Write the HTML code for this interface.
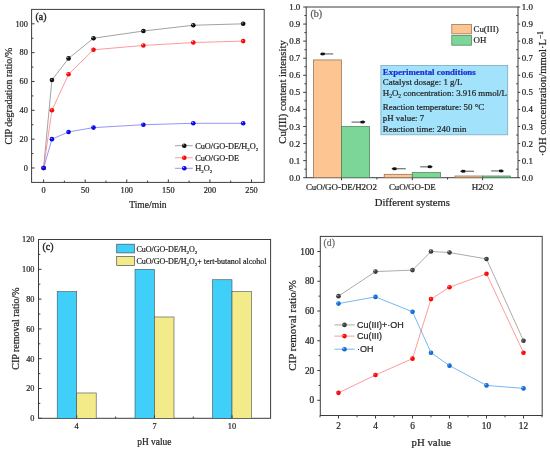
<!DOCTYPE html>
<html><head><meta charset="utf-8"><style>
html,body{margin:0;padding:0;background:#fff;width:550px;height:449px;overflow:hidden}
svg{display:block;font-family:"Liberation Serif", serif;will-change:transform}
text{stroke-width:0.22px}
</style></head><body>
<svg width="550" height="449" viewBox="0 0 550 449">
<defs>
<radialGradient id="gk" cx="0.5" cy="0.5" fx="0.32" fy="0.28" r="0.55"><stop offset="0" stop-color="#ddd"/><stop offset="0.28" stop-color="#222"/><stop offset="1" stop-color="#000"/></radialGradient>
<radialGradient id="gg" cx="0.5" cy="0.5" fx="0.32" fy="0.28" r="0.55"><stop offset="0" stop-color="#ddd"/><stop offset="0.28" stop-color="#505050"/><stop offset="1" stop-color="#2a2a2a"/></radialGradient>
<radialGradient id="gr" cx="0.5" cy="0.5" fx="0.32" fy="0.28" r="0.55"><stop offset="0" stop-color="#fdd"/><stop offset="0.28" stop-color="#f11"/><stop offset="1" stop-color="#e00"/></radialGradient>
<radialGradient id="gb" cx="0.5" cy="0.5" fx="0.32" fy="0.28" r="0.55"><stop offset="0" stop-color="#ddf"/><stop offset="0.28" stop-color="#11f"/><stop offset="1" stop-color="#00d"/></radialGradient>
<radialGradient id="gc" cx="0.5" cy="0.5" fx="0.32" fy="0.28" r="0.55"><stop offset="0" stop-color="#def"/><stop offset="0.28" stop-color="#1a78e8"/><stop offset="1" stop-color="#0a5cc0"/></radialGradient>
</defs>
<rect x="0" y="0" width="550" height="449" fill="#fff"/>
<rect x="31.60" y="9.40" width="232.60" height="173.00" fill="none" stroke="#3c3c3c" stroke-width="1"/>
<line x1="31.60" y1="167.98" x2="34.60" y2="167.98" stroke="#3c3c3c" stroke-width="1"/>
<text x="27.90" y="170.81" font-size="8.3" text-anchor="end" fill="#262626" stroke="#262626" font-weight="normal" >0</text>
<line x1="31.60" y1="139.15" x2="34.60" y2="139.15" stroke="#3c3c3c" stroke-width="1"/>
<text x="27.90" y="141.97" font-size="8.3" text-anchor="end" fill="#262626" stroke="#262626" font-weight="normal" >20</text>
<line x1="31.60" y1="110.32" x2="34.60" y2="110.32" stroke="#3c3c3c" stroke-width="1"/>
<text x="27.90" y="113.14" font-size="8.3" text-anchor="end" fill="#262626" stroke="#262626" font-weight="normal" >40</text>
<line x1="31.60" y1="81.48" x2="34.60" y2="81.48" stroke="#3c3c3c" stroke-width="1"/>
<text x="27.90" y="84.31" font-size="8.3" text-anchor="end" fill="#262626" stroke="#262626" font-weight="normal" >60</text>
<line x1="31.60" y1="52.65" x2="34.60" y2="52.65" stroke="#3c3c3c" stroke-width="1"/>
<text x="27.90" y="55.47" font-size="8.3" text-anchor="end" fill="#262626" stroke="#262626" font-weight="normal" >80</text>
<line x1="31.60" y1="23.82" x2="34.60" y2="23.82" stroke="#3c3c3c" stroke-width="1"/>
<text x="27.90" y="26.64" font-size="8.3" text-anchor="end" fill="#262626" stroke="#262626" font-weight="normal" >100</text>
<line x1="31.60" y1="153.57" x2="33.40" y2="153.57" stroke="#3c3c3c" stroke-width="1"/>
<line x1="31.60" y1="124.73" x2="33.40" y2="124.73" stroke="#3c3c3c" stroke-width="1"/>
<line x1="31.60" y1="95.90" x2="33.40" y2="95.90" stroke="#3c3c3c" stroke-width="1"/>
<line x1="31.60" y1="67.07" x2="33.40" y2="67.07" stroke="#3c3c3c" stroke-width="1"/>
<line x1="31.60" y1="38.23" x2="33.40" y2="38.23" stroke="#3c3c3c" stroke-width="1"/>
<line x1="43.60" y1="182.40" x2="43.60" y2="179.40" stroke="#3c3c3c" stroke-width="1"/>
<text x="43.60" y="193.02" font-size="8.3" text-anchor="middle" fill="#262626" stroke="#262626" font-weight="normal" >0</text>
<line x1="85.18" y1="182.40" x2="85.18" y2="179.40" stroke="#3c3c3c" stroke-width="1"/>
<text x="85.18" y="193.02" font-size="8.3" text-anchor="middle" fill="#262626" stroke="#262626" font-weight="normal" >50</text>
<line x1="126.76" y1="182.40" x2="126.76" y2="179.40" stroke="#3c3c3c" stroke-width="1"/>
<text x="126.76" y="193.02" font-size="8.3" text-anchor="middle" fill="#262626" stroke="#262626" font-weight="normal" >100</text>
<line x1="168.34" y1="182.40" x2="168.34" y2="179.40" stroke="#3c3c3c" stroke-width="1"/>
<text x="168.34" y="193.02" font-size="8.3" text-anchor="middle" fill="#262626" stroke="#262626" font-weight="normal" >150</text>
<line x1="209.92" y1="182.40" x2="209.92" y2="179.40" stroke="#3c3c3c" stroke-width="1"/>
<text x="209.92" y="193.02" font-size="8.3" text-anchor="middle" fill="#262626" stroke="#262626" font-weight="normal" >200</text>
<line x1="251.50" y1="182.40" x2="251.50" y2="179.40" stroke="#3c3c3c" stroke-width="1"/>
<text x="251.50" y="193.02" font-size="8.3" text-anchor="middle" fill="#262626" stroke="#262626" font-weight="normal" >250</text>
<line x1="64.39" y1="182.40" x2="64.39" y2="180.60" stroke="#3c3c3c" stroke-width="1"/>
<line x1="105.97" y1="182.40" x2="105.97" y2="180.60" stroke="#3c3c3c" stroke-width="1"/>
<line x1="147.55" y1="182.40" x2="147.55" y2="180.60" stroke="#3c3c3c" stroke-width="1"/>
<line x1="189.13" y1="182.40" x2="189.13" y2="180.60" stroke="#3c3c3c" stroke-width="1"/>
<line x1="230.71" y1="182.40" x2="230.71" y2="180.60" stroke="#3c3c3c" stroke-width="1"/>
<text x="35.60" y="19.60" font-size="9.8" text-anchor="start" fill="#262626" stroke="#262626" font-weight="normal" style="stroke-width:0.4px">(a)</text>
<polyline points="43.60,167.98 51.92,80.04 68.55,58.42 93.50,38.23 143.39,31.03 193.29,25.26 243.18,23.82" fill="none" stroke="#8a8a8a" stroke-width="0.8"/>
<circle cx="43.60" cy="167.98" r="2.3" fill="url(#gk)"/>
<circle cx="51.92" cy="80.04" r="2.3" fill="url(#gk)"/>
<circle cx="68.55" cy="58.42" r="2.3" fill="url(#gk)"/>
<circle cx="93.50" cy="38.23" r="2.3" fill="url(#gk)"/>
<circle cx="143.39" cy="31.03" r="2.3" fill="url(#gk)"/>
<circle cx="193.29" cy="25.26" r="2.3" fill="url(#gk)"/>
<circle cx="243.18" cy="23.82" r="2.3" fill="url(#gk)"/>
<polyline points="43.60,167.98 51.92,110.32 68.55,74.28 93.50,49.77 143.39,45.44 193.29,42.56 243.18,41.12" fill="none" stroke="#ff8080" stroke-width="0.8"/>
<circle cx="43.60" cy="167.98" r="2.3" fill="url(#gr)"/>
<circle cx="51.92" cy="110.32" r="2.3" fill="url(#gr)"/>
<circle cx="68.55" cy="74.28" r="2.3" fill="url(#gr)"/>
<circle cx="93.50" cy="49.77" r="2.3" fill="url(#gr)"/>
<circle cx="143.39" cy="45.44" r="2.3" fill="url(#gr)"/>
<circle cx="193.29" cy="42.56" r="2.3" fill="url(#gr)"/>
<circle cx="243.18" cy="41.12" r="2.3" fill="url(#gr)"/>
<polyline points="43.60,167.98 51.92,139.15 68.55,131.94 93.50,127.62 143.39,124.73 193.29,123.29 243.18,123.29" fill="none" stroke="#7a7af5" stroke-width="0.8"/>
<circle cx="43.60" cy="167.98" r="2.3" fill="url(#gb)"/>
<circle cx="51.92" cy="139.15" r="2.3" fill="url(#gb)"/>
<circle cx="68.55" cy="131.94" r="2.3" fill="url(#gb)"/>
<circle cx="93.50" cy="127.62" r="2.3" fill="url(#gb)"/>
<circle cx="143.39" cy="124.73" r="2.3" fill="url(#gb)"/>
<circle cx="193.29" cy="123.29" r="2.3" fill="url(#gb)"/>
<circle cx="243.18" cy="123.29" r="2.3" fill="url(#gb)"/>
<line x1="175.00" y1="145.70" x2="192.80" y2="145.70" stroke="#8a8a8a" stroke-width="0.8"/>
<circle cx="184.30" cy="145.70" r="2.3" fill="url(#gk)"/>
<text x="195.20" y="148.90" font-size="8.3" text-anchor="start" fill="#262626" stroke="#262626" font-weight="normal" >CuO/GO-DE/H<tspan baseline-shift="-38%" font-size="4.98">2</tspan>O<tspan baseline-shift="-38%" font-size="4.98">2</tspan></text>
<line x1="175.00" y1="157.80" x2="192.80" y2="157.80" stroke="#ff8080" stroke-width="0.8"/>
<circle cx="184.30" cy="157.80" r="2.3" fill="url(#gr)"/>
<text x="195.20" y="160.90" font-size="8.3" text-anchor="start" fill="#262626" stroke="#262626" font-weight="normal" >CuO/GO-DE</text>
<line x1="175.00" y1="168.30" x2="192.80" y2="168.30" stroke="#7a7af5" stroke-width="0.8"/>
<circle cx="184.30" cy="168.30" r="2.3" fill="url(#gb)"/>
<text x="195.20" y="171.40" font-size="8.3" text-anchor="start" fill="#262626" stroke="#262626" font-weight="normal" >H<tspan baseline-shift="-38%" font-size="4.98">2</tspan>O<tspan baseline-shift="-38%" font-size="4.98">2</tspan></text>
<text x="147.90" y="207.50" font-size="9.6" text-anchor="middle" fill="#262626" stroke="#262626" font-weight="normal" >Time/min</text>
<text x="0" y="0" font-size="10.0" text-anchor="middle" fill="#262626" stroke="#262626" transform="translate(11.70,96.10) rotate(-90)">CIP degradation ratio/%</text>
<rect x="306.20" y="7.00" width="211.80" height="170.70" fill="none" stroke="#3c3c3c" stroke-width="1"/>
<line x1="303.20" y1="177.70" x2="306.20" y2="177.70" stroke="#3c3c3c" stroke-width="1"/>
<line x1="518.00" y1="177.70" x2="520.20" y2="177.70" stroke="#3c3c3c" stroke-width="1"/>
<text x="300.30" y="180.73" font-size="8.9" text-anchor="end" fill="#262626" stroke="#262626" font-weight="normal" >0.0</text>
<text x="521.80" y="180.73" font-size="8.9" text-anchor="start" fill="#262626" stroke="#262626" font-weight="normal" >0.0</text>
<line x1="303.20" y1="160.63" x2="306.20" y2="160.63" stroke="#3c3c3c" stroke-width="1"/>
<line x1="518.00" y1="160.63" x2="520.20" y2="160.63" stroke="#3c3c3c" stroke-width="1"/>
<text x="300.30" y="163.66" font-size="8.9" text-anchor="end" fill="#262626" stroke="#262626" font-weight="normal" >0.1</text>
<text x="521.80" y="163.66" font-size="8.9" text-anchor="start" fill="#262626" stroke="#262626" font-weight="normal" >0.1</text>
<line x1="303.20" y1="143.56" x2="306.20" y2="143.56" stroke="#3c3c3c" stroke-width="1"/>
<line x1="518.00" y1="143.56" x2="520.20" y2="143.56" stroke="#3c3c3c" stroke-width="1"/>
<text x="300.30" y="146.59" font-size="8.9" text-anchor="end" fill="#262626" stroke="#262626" font-weight="normal" >0.2</text>
<text x="521.80" y="146.59" font-size="8.9" text-anchor="start" fill="#262626" stroke="#262626" font-weight="normal" >0.2</text>
<line x1="303.20" y1="126.49" x2="306.20" y2="126.49" stroke="#3c3c3c" stroke-width="1"/>
<line x1="518.00" y1="126.49" x2="520.20" y2="126.49" stroke="#3c3c3c" stroke-width="1"/>
<text x="300.30" y="129.52" font-size="8.9" text-anchor="end" fill="#262626" stroke="#262626" font-weight="normal" >0.3</text>
<text x="521.80" y="129.52" font-size="8.9" text-anchor="start" fill="#262626" stroke="#262626" font-weight="normal" >0.3</text>
<line x1="303.20" y1="109.42" x2="306.20" y2="109.42" stroke="#3c3c3c" stroke-width="1"/>
<line x1="518.00" y1="109.42" x2="520.20" y2="109.42" stroke="#3c3c3c" stroke-width="1"/>
<text x="300.30" y="112.45" font-size="8.9" text-anchor="end" fill="#262626" stroke="#262626" font-weight="normal" >0.4</text>
<text x="521.80" y="112.45" font-size="8.9" text-anchor="start" fill="#262626" stroke="#262626" font-weight="normal" >0.4</text>
<line x1="303.20" y1="92.35" x2="306.20" y2="92.35" stroke="#3c3c3c" stroke-width="1"/>
<line x1="518.00" y1="92.35" x2="520.20" y2="92.35" stroke="#3c3c3c" stroke-width="1"/>
<text x="300.30" y="95.38" font-size="8.9" text-anchor="end" fill="#262626" stroke="#262626" font-weight="normal" >0.5</text>
<text x="521.80" y="95.38" font-size="8.9" text-anchor="start" fill="#262626" stroke="#262626" font-weight="normal" >0.5</text>
<line x1="303.20" y1="75.28" x2="306.20" y2="75.28" stroke="#3c3c3c" stroke-width="1"/>
<line x1="518.00" y1="75.28" x2="520.20" y2="75.28" stroke="#3c3c3c" stroke-width="1"/>
<text x="300.30" y="78.31" font-size="8.9" text-anchor="end" fill="#262626" stroke="#262626" font-weight="normal" >0.6</text>
<text x="521.80" y="78.31" font-size="8.9" text-anchor="start" fill="#262626" stroke="#262626" font-weight="normal" >0.6</text>
<line x1="303.20" y1="58.21" x2="306.20" y2="58.21" stroke="#3c3c3c" stroke-width="1"/>
<line x1="518.00" y1="58.21" x2="520.20" y2="58.21" stroke="#3c3c3c" stroke-width="1"/>
<text x="300.30" y="61.24" font-size="8.9" text-anchor="end" fill="#262626" stroke="#262626" font-weight="normal" >0.7</text>
<text x="521.80" y="61.24" font-size="8.9" text-anchor="start" fill="#262626" stroke="#262626" font-weight="normal" >0.7</text>
<line x1="303.20" y1="41.14" x2="306.20" y2="41.14" stroke="#3c3c3c" stroke-width="1"/>
<line x1="518.00" y1="41.14" x2="520.20" y2="41.14" stroke="#3c3c3c" stroke-width="1"/>
<text x="300.30" y="44.17" font-size="8.9" text-anchor="end" fill="#262626" stroke="#262626" font-weight="normal" >0.8</text>
<text x="521.80" y="44.17" font-size="8.9" text-anchor="start" fill="#262626" stroke="#262626" font-weight="normal" >0.8</text>
<line x1="303.20" y1="24.07" x2="306.20" y2="24.07" stroke="#3c3c3c" stroke-width="1"/>
<line x1="518.00" y1="24.07" x2="520.20" y2="24.07" stroke="#3c3c3c" stroke-width="1"/>
<text x="300.30" y="27.10" font-size="8.9" text-anchor="end" fill="#262626" stroke="#262626" font-weight="normal" >0.9</text>
<text x="521.80" y="27.10" font-size="8.9" text-anchor="start" fill="#262626" stroke="#262626" font-weight="normal" >0.9</text>
<line x1="303.20" y1="7.00" x2="306.20" y2="7.00" stroke="#3c3c3c" stroke-width="1"/>
<line x1="518.00" y1="7.00" x2="520.20" y2="7.00" stroke="#3c3c3c" stroke-width="1"/>
<text x="300.30" y="10.03" font-size="8.9" text-anchor="end" fill="#262626" stroke="#262626" font-weight="normal" >1.0</text>
<text x="521.80" y="10.03" font-size="8.9" text-anchor="start" fill="#262626" stroke="#262626" font-weight="normal" >1.0</text>
<line x1="304.40" y1="169.16" x2="306.20" y2="169.16" stroke="#3c3c3c" stroke-width="1"/>
<line x1="516.20" y1="169.16" x2="518.00" y2="169.16" stroke="#3c3c3c" stroke-width="1"/>
<line x1="304.40" y1="152.09" x2="306.20" y2="152.09" stroke="#3c3c3c" stroke-width="1"/>
<line x1="516.20" y1="152.09" x2="518.00" y2="152.09" stroke="#3c3c3c" stroke-width="1"/>
<line x1="304.40" y1="135.02" x2="306.20" y2="135.02" stroke="#3c3c3c" stroke-width="1"/>
<line x1="516.20" y1="135.02" x2="518.00" y2="135.02" stroke="#3c3c3c" stroke-width="1"/>
<line x1="304.40" y1="117.95" x2="306.20" y2="117.95" stroke="#3c3c3c" stroke-width="1"/>
<line x1="516.20" y1="117.95" x2="518.00" y2="117.95" stroke="#3c3c3c" stroke-width="1"/>
<line x1="304.40" y1="100.88" x2="306.20" y2="100.88" stroke="#3c3c3c" stroke-width="1"/>
<line x1="516.20" y1="100.88" x2="518.00" y2="100.88" stroke="#3c3c3c" stroke-width="1"/>
<line x1="304.40" y1="83.81" x2="306.20" y2="83.81" stroke="#3c3c3c" stroke-width="1"/>
<line x1="516.20" y1="83.81" x2="518.00" y2="83.81" stroke="#3c3c3c" stroke-width="1"/>
<line x1="304.40" y1="66.74" x2="306.20" y2="66.74" stroke="#3c3c3c" stroke-width="1"/>
<line x1="516.20" y1="66.74" x2="518.00" y2="66.74" stroke="#3c3c3c" stroke-width="1"/>
<line x1="304.40" y1="49.68" x2="306.20" y2="49.68" stroke="#3c3c3c" stroke-width="1"/>
<line x1="516.20" y1="49.68" x2="518.00" y2="49.68" stroke="#3c3c3c" stroke-width="1"/>
<line x1="304.40" y1="32.60" x2="306.20" y2="32.60" stroke="#3c3c3c" stroke-width="1"/>
<line x1="516.20" y1="32.60" x2="518.00" y2="32.60" stroke="#3c3c3c" stroke-width="1"/>
<line x1="304.40" y1="15.53" x2="306.20" y2="15.53" stroke="#3c3c3c" stroke-width="1"/>
<line x1="516.20" y1="15.53" x2="518.00" y2="15.53" stroke="#3c3c3c" stroke-width="1"/>
<rect x="313.40" y="59.92" width="28.10" height="117.78" fill="#fdc592" stroke="#8b6a4f" stroke-width="0.7"/>
<rect x="341.50" y="126.49" width="28.10" height="51.21" fill="#7bd697" stroke="#4a7a56" stroke-width="0.7"/>
<rect x="384.20" y="174.29" width="28.10" height="3.41" fill="#fdc592" stroke="#8b6a4f" stroke-width="0.7"/>
<rect x="412.30" y="172.58" width="28.30" height="5.12" fill="#7bd697" stroke="#4a7a56" stroke-width="0.7"/>
<rect x="455.00" y="175.99" width="27.60" height="1.71" fill="#fdc592" stroke="#8b6a4f" stroke-width="0.7"/>
<rect x="482.60" y="175.99" width="27.80" height="1.71" fill="#7bd697" stroke="#4a7a56" stroke-width="0.7"/>
<line x1="341.50" y1="177.70" x2="341.50" y2="180.20" stroke="#3c3c3c" stroke-width="1"/>
<line x1="412.30" y1="177.70" x2="412.30" y2="180.20" stroke="#3c3c3c" stroke-width="1"/>
<line x1="482.60" y1="177.70" x2="482.60" y2="180.20" stroke="#3c3c3c" stroke-width="1"/>
<line x1="376.90" y1="177.70" x2="376.90" y2="179.50" stroke="#3c3c3c" stroke-width="1"/>
<line x1="447.50" y1="177.70" x2="447.50" y2="179.50" stroke="#3c3c3c" stroke-width="1"/>
<line x1="321.80" y1="53.90" x2="333.20" y2="53.90" stroke="#7a7a7a" stroke-width="1.3"/>
<path d="M319.80,53.90 L321.80,52.40 L324.80,52.70 L324.80,55.10 L321.80,55.40 Z" fill="#111"/>
<line x1="351.50" y1="122.10" x2="363.50" y2="122.10" stroke="#7a7a7a" stroke-width="1.3"/>
<path d="M365.50,122.10 L363.50,120.60 L360.50,120.90 L360.50,123.30 L363.50,123.60 Z" fill="#111"/>
<line x1="393.50" y1="168.70" x2="405.80" y2="168.70" stroke="#7a7a7a" stroke-width="1.3"/>
<path d="M391.50,168.70 L393.50,167.20 L396.50,167.50 L396.50,169.90 L393.50,170.20 Z" fill="#111"/>
<line x1="420.20" y1="166.80" x2="430.80" y2="166.80" stroke="#7a7a7a" stroke-width="1.3"/>
<path d="M432.80,166.80 L430.80,165.30 L427.80,165.60 L427.80,168.00 L430.80,168.30 Z" fill="#111"/>
<line x1="462.20" y1="171.30" x2="474.00" y2="171.30" stroke="#7a7a7a" stroke-width="1.3"/>
<path d="M460.20,171.30 L462.20,169.80 L465.20,170.10 L465.20,172.50 L462.20,172.80 Z" fill="#111"/>
<line x1="491.20" y1="170.90" x2="502.00" y2="170.90" stroke="#7a7a7a" stroke-width="1.3"/>
<path d="M504.00,170.90 L502.00,169.40 L499.00,169.70 L499.00,172.10 L502.00,172.40 Z" fill="#111"/>
<text x="341.40" y="190.40" font-size="8.9" text-anchor="middle" fill="#262626" stroke="#262626" font-weight="normal" >CuO/GO-DE/H2O2</text>
<text x="412.30" y="190.40" font-size="8.9" text-anchor="middle" fill="#262626" stroke="#262626" font-weight="normal" >CuO/GO-DE</text>
<text x="482.60" y="190.40" font-size="8.9" text-anchor="middle" fill="#262626" stroke="#262626" font-weight="normal" >H2O2</text>
<text x="412.30" y="206.40" font-size="10.65" text-anchor="middle" fill="#262626" stroke="#262626" font-weight="normal" >Different systems</text>
<text x="310.50" y="17.40" font-size="10" text-anchor="start" fill="#555" stroke="#555" font-weight="normal" >(b)</text>
<text x="0" y="0" font-size="10.65" text-anchor="middle" fill="#262626" stroke="#262626" transform="translate(286.20,92.00) rotate(-90)">Cu(III) content intensity</text>
<text x="0" y="0" font-size="10.65" text-anchor="middle" fill="#262626" stroke="#262626" transform="translate(546.2,93.75) rotate(-90)">·OH concentration/mmol·L<tspan dy="-3.5" font-size="7.24">−1</tspan></text>
<rect x="451.80" y="24.50" width="19.80" height="9.40" fill="#fdc592" stroke="#8b6a4f" stroke-width="0.7"/>
<rect x="451.80" y="35.60" width="19.80" height="9.60" fill="#7bd697" stroke="#4a7a56" stroke-width="0.7"/>
<text x="473.50" y="32.40" font-size="8.9" text-anchor="start" fill="#262626" stroke="#262626" font-weight="normal" >Cu(III)</text>
<text x="473.50" y="43.20" font-size="8.9" text-anchor="start" fill="#262626" stroke="#262626" font-weight="normal" >OH</text>
<rect x="380.90" y="65.40" width="126.80" height="69.40" fill="#a3e2fb" stroke="#7fa9bd" stroke-width="0.8"/>
<text x="382.80" y="74.60" font-size="8.9" text-anchor="start" fill="#1a2fcf" stroke="#1a2fcf" font-weight="bold" >Experimental conditions</text>
<text x="382.80" y="85.30" font-size="8.9" text-anchor="start" fill="#262626" stroke="#262626" font-weight="normal" >Catalyst dosage: 1 g/L</text>
<text x="382.80" y="96.00" font-size="8.9" text-anchor="start" fill="#262626" stroke="#262626" font-weight="normal" >H<tspan baseline-shift="-38%" font-size="5.34">2</tspan>O<tspan baseline-shift="-38%" font-size="5.34">2</tspan> concentration: 3.916 mmol/L</text>
<text x="382.80" y="109.60" font-size="8.9" text-anchor="start" fill="#262626" stroke="#262626" font-weight="normal" >Reaction temperature: 50 °C</text>
<text x="382.80" y="121.10" font-size="8.9" text-anchor="start" fill="#262626" stroke="#262626" font-weight="normal" >pH value: 7</text>
<text x="382.80" y="131.70" font-size="8.9" text-anchor="start" fill="#262626" stroke="#262626" font-weight="normal" >Reaction time: 240 min</text>
<rect x="38.50" y="239.50" width="232.10" height="178.80" fill="none" stroke="#3c3c3c" stroke-width="1"/>
<line x1="38.50" y1="418.30" x2="41.50" y2="418.30" stroke="#3c3c3c" stroke-width="1"/>
<text x="34.50" y="421.12" font-size="8.3" text-anchor="end" fill="#262626" stroke="#262626" font-weight="normal" >0</text>
<line x1="38.50" y1="388.50" x2="41.50" y2="388.50" stroke="#3c3c3c" stroke-width="1"/>
<text x="34.50" y="391.32" font-size="8.3" text-anchor="end" fill="#262626" stroke="#262626" font-weight="normal" >20</text>
<line x1="38.50" y1="358.70" x2="41.50" y2="358.70" stroke="#3c3c3c" stroke-width="1"/>
<text x="34.50" y="361.52" font-size="8.3" text-anchor="end" fill="#262626" stroke="#262626" font-weight="normal" >40</text>
<line x1="38.50" y1="328.90" x2="41.50" y2="328.90" stroke="#3c3c3c" stroke-width="1"/>
<text x="34.50" y="331.72" font-size="8.3" text-anchor="end" fill="#262626" stroke="#262626" font-weight="normal" >60</text>
<line x1="38.50" y1="299.10" x2="41.50" y2="299.10" stroke="#3c3c3c" stroke-width="1"/>
<text x="34.50" y="301.92" font-size="8.3" text-anchor="end" fill="#262626" stroke="#262626" font-weight="normal" >80</text>
<line x1="38.50" y1="269.30" x2="41.50" y2="269.30" stroke="#3c3c3c" stroke-width="1"/>
<text x="34.50" y="272.12" font-size="8.3" text-anchor="end" fill="#262626" stroke="#262626" font-weight="normal" >100</text>
<line x1="38.50" y1="239.50" x2="41.50" y2="239.50" stroke="#3c3c3c" stroke-width="1"/>
<text x="34.50" y="242.32" font-size="8.3" text-anchor="end" fill="#262626" stroke="#262626" font-weight="normal" >120</text>
<line x1="38.50" y1="403.40" x2="40.30" y2="403.40" stroke="#3c3c3c" stroke-width="1"/>
<line x1="38.50" y1="373.60" x2="40.30" y2="373.60" stroke="#3c3c3c" stroke-width="1"/>
<line x1="38.50" y1="343.80" x2="40.30" y2="343.80" stroke="#3c3c3c" stroke-width="1"/>
<line x1="38.50" y1="314.00" x2="40.30" y2="314.00" stroke="#3c3c3c" stroke-width="1"/>
<line x1="38.50" y1="284.20" x2="40.30" y2="284.20" stroke="#3c3c3c" stroke-width="1"/>
<line x1="38.50" y1="254.40" x2="40.30" y2="254.40" stroke="#3c3c3c" stroke-width="1"/>
<rect x="57.20" y="291.65" width="19.50" height="126.65" fill="#40cff8" stroke="#4a4f54" stroke-width="0.6"/>
<rect x="76.70" y="392.97" width="19.50" height="25.33" fill="#f3ea8a" stroke="#4a4f54" stroke-width="0.6"/>
<text x="76.70" y="428.92" font-size="8.3" text-anchor="middle" fill="#262626" stroke="#262626" font-weight="normal" >4</text>
<line x1="76.70" y1="418.30" x2="76.70" y2="415.30" stroke="#3c3c3c" stroke-width="1"/>
<rect x="135.00" y="269.30" width="19.50" height="149.00" fill="#40cff8" stroke="#4a4f54" stroke-width="0.6"/>
<rect x="154.50" y="316.98" width="19.50" height="101.32" fill="#f3ea8a" stroke="#4a4f54" stroke-width="0.6"/>
<text x="154.50" y="428.92" font-size="8.3" text-anchor="middle" fill="#262626" stroke="#262626" font-weight="normal" >7</text>
<line x1="154.50" y1="418.30" x2="154.50" y2="415.30" stroke="#3c3c3c" stroke-width="1"/>
<rect x="212.50" y="279.73" width="19.50" height="138.57" fill="#40cff8" stroke="#4a4f54" stroke-width="0.6"/>
<rect x="232.00" y="291.65" width="19.50" height="126.65" fill="#f3ea8a" stroke="#4a4f54" stroke-width="0.6"/>
<text x="232.00" y="428.92" font-size="8.3" text-anchor="middle" fill="#262626" stroke="#262626" font-weight="normal" >10</text>
<line x1="232.00" y1="418.30" x2="232.00" y2="415.30" stroke="#3c3c3c" stroke-width="1"/>
<line x1="115.60" y1="418.30" x2="115.60" y2="416.50" stroke="#3c3c3c" stroke-width="1"/>
<line x1="193.30" y1="418.30" x2="193.30" y2="416.50" stroke="#3c3c3c" stroke-width="1"/>
<text x="42.60" y="250.40" font-size="9.8" text-anchor="start" fill="#262626" stroke="#262626" font-weight="normal" style="stroke-width:0.4px">(c)</text>
<rect x="116.70" y="244.20" width="17.80" height="8.70" fill="#40cff8" stroke="#4a4f54" stroke-width="0.7"/>
<rect x="116.70" y="256.60" width="17.80" height="8.90" fill="#f3ea8a" stroke="#4a4f54" stroke-width="0.7"/>
<text x="136.40" y="251.90" font-size="8.0" text-anchor="start" fill="#262626" stroke="#262626" font-weight="normal" >CuO/GO-DE/H<tspan baseline-shift="-38%" font-size="4.80">2</tspan>O<tspan baseline-shift="-38%" font-size="4.80">2</tspan></text>
<text x="136.40" y="263.60" font-size="8.0" text-anchor="start" fill="#262626" stroke="#262626" font-weight="normal" >CuO/GO-DE/H<tspan baseline-shift="-38%" font-size="4.80">2</tspan>O<tspan baseline-shift="-38%" font-size="4.80">2</tspan>+ tert-butanol alcohol</text>
<text x="154.30" y="444.50" font-size="9.4" text-anchor="middle" fill="#262626" stroke="#262626" font-weight="normal" >pH value</text>
<text x="0" y="0" font-size="10.0" text-anchor="middle" fill="#262626" stroke="#262626" transform="translate(18.70,328.50) rotate(-90)">CIP removal ratio/%</text>
<rect x="320.30" y="236.40" width="221.90" height="179.10" fill="none" stroke="#3c3c3c" stroke-width="1"/>
<line x1="317.30" y1="400.30" x2="320.30" y2="400.30" stroke="#3c3c3c" stroke-width="1"/>
<text x="314.20" y="403.46" font-size="9.3" text-anchor="end" fill="#262626" stroke="#262626" font-weight="normal" >0</text>
<line x1="317.30" y1="370.54" x2="320.30" y2="370.54" stroke="#3c3c3c" stroke-width="1"/>
<text x="314.20" y="373.70" font-size="9.3" text-anchor="end" fill="#262626" stroke="#262626" font-weight="normal" >20</text>
<line x1="317.30" y1="340.78" x2="320.30" y2="340.78" stroke="#3c3c3c" stroke-width="1"/>
<text x="314.20" y="343.94" font-size="9.3" text-anchor="end" fill="#262626" stroke="#262626" font-weight="normal" >40</text>
<line x1="317.30" y1="311.02" x2="320.30" y2="311.02" stroke="#3c3c3c" stroke-width="1"/>
<text x="314.20" y="314.18" font-size="9.3" text-anchor="end" fill="#262626" stroke="#262626" font-weight="normal" >60</text>
<line x1="317.30" y1="281.26" x2="320.30" y2="281.26" stroke="#3c3c3c" stroke-width="1"/>
<text x="314.20" y="284.42" font-size="9.3" text-anchor="end" fill="#262626" stroke="#262626" font-weight="normal" >80</text>
<line x1="317.30" y1="251.50" x2="320.30" y2="251.50" stroke="#3c3c3c" stroke-width="1"/>
<text x="314.20" y="254.66" font-size="9.3" text-anchor="end" fill="#262626" stroke="#262626" font-weight="normal" >100</text>
<line x1="318.50" y1="385.42" x2="320.30" y2="385.42" stroke="#3c3c3c" stroke-width="1"/>
<line x1="318.50" y1="355.66" x2="320.30" y2="355.66" stroke="#3c3c3c" stroke-width="1"/>
<line x1="318.50" y1="325.90" x2="320.30" y2="325.90" stroke="#3c3c3c" stroke-width="1"/>
<line x1="318.50" y1="296.14" x2="320.30" y2="296.14" stroke="#3c3c3c" stroke-width="1"/>
<line x1="318.50" y1="266.38" x2="320.30" y2="266.38" stroke="#3c3c3c" stroke-width="1"/>
<line x1="338.50" y1="415.50" x2="338.50" y2="418.50" stroke="#3c3c3c" stroke-width="1"/>
<text x="338.50" y="428.96" font-size="9.3" text-anchor="middle" fill="#262626" stroke="#262626" font-weight="normal" >2</text>
<line x1="375.50" y1="415.50" x2="375.50" y2="418.50" stroke="#3c3c3c" stroke-width="1"/>
<text x="375.50" y="428.96" font-size="9.3" text-anchor="middle" fill="#262626" stroke="#262626" font-weight="normal" >4</text>
<line x1="412.50" y1="415.50" x2="412.50" y2="418.50" stroke="#3c3c3c" stroke-width="1"/>
<text x="412.50" y="428.96" font-size="9.3" text-anchor="middle" fill="#262626" stroke="#262626" font-weight="normal" >6</text>
<line x1="449.50" y1="415.50" x2="449.50" y2="418.50" stroke="#3c3c3c" stroke-width="1"/>
<text x="449.50" y="428.96" font-size="9.3" text-anchor="middle" fill="#262626" stroke="#262626" font-weight="normal" >8</text>
<line x1="486.50" y1="415.50" x2="486.50" y2="418.50" stroke="#3c3c3c" stroke-width="1"/>
<text x="486.50" y="428.96" font-size="9.3" text-anchor="middle" fill="#262626" stroke="#262626" font-weight="normal" >10</text>
<line x1="523.50" y1="415.50" x2="523.50" y2="418.50" stroke="#3c3c3c" stroke-width="1"/>
<text x="523.50" y="428.96" font-size="9.3" text-anchor="middle" fill="#262626" stroke="#262626" font-weight="normal" >12</text>
<line x1="320.00" y1="415.50" x2="320.00" y2="417.30" stroke="#3c3c3c" stroke-width="1"/>
<line x1="357.00" y1="415.50" x2="357.00" y2="417.30" stroke="#3c3c3c" stroke-width="1"/>
<line x1="394.00" y1="415.50" x2="394.00" y2="417.30" stroke="#3c3c3c" stroke-width="1"/>
<line x1="431.00" y1="415.50" x2="431.00" y2="417.30" stroke="#3c3c3c" stroke-width="1"/>
<line x1="468.00" y1="415.50" x2="468.00" y2="417.30" stroke="#3c3c3c" stroke-width="1"/>
<line x1="505.00" y1="415.50" x2="505.00" y2="417.30" stroke="#3c3c3c" stroke-width="1"/>
<line x1="542.00" y1="415.50" x2="542.00" y2="417.30" stroke="#3c3c3c" stroke-width="1"/>
<text x="323.60" y="246.00" font-size="9.7" text-anchor="start" fill="#666" stroke="#666" font-weight="normal" >(d)</text>
<polyline points="338.50,296.14 375.50,271.59 412.50,270.10 431.00,251.50 449.50,252.54 486.50,258.94 523.50,340.78" fill="none" stroke="#959595" stroke-width="0.8"/>
<polyline points="338.50,392.86 375.50,375.00 412.50,358.64 431.00,299.12 449.50,287.21 486.50,273.82 523.50,352.68" fill="none" stroke="#ff8080" stroke-width="0.8"/>
<polyline points="338.50,303.58 375.50,296.88 412.50,311.76 431.00,352.68 449.50,365.63 486.50,385.42 523.50,388.40" fill="none" stroke="#55a5ea" stroke-width="0.8"/>
<circle cx="338.50" cy="296.14" r="2.3" fill="url(#gg)"/>
<circle cx="375.50" cy="271.59" r="2.3" fill="url(#gg)"/>
<circle cx="412.50" cy="270.10" r="2.3" fill="url(#gg)"/>
<circle cx="431.00" cy="251.50" r="2.3" fill="url(#gg)"/>
<circle cx="449.50" cy="252.54" r="2.3" fill="url(#gg)"/>
<circle cx="486.50" cy="258.94" r="2.3" fill="url(#gg)"/>
<circle cx="523.50" cy="340.78" r="2.3" fill="url(#gg)"/>
<circle cx="338.50" cy="392.86" r="2.3" fill="url(#gr)"/>
<circle cx="375.50" cy="375.00" r="2.3" fill="url(#gr)"/>
<circle cx="412.50" cy="358.64" r="2.3" fill="url(#gr)"/>
<circle cx="431.00" cy="299.12" r="2.3" fill="url(#gr)"/>
<circle cx="449.50" cy="287.21" r="2.3" fill="url(#gr)"/>
<circle cx="486.50" cy="273.82" r="2.3" fill="url(#gr)"/>
<circle cx="523.50" cy="352.68" r="2.3" fill="url(#gr)"/>
<circle cx="338.50" cy="303.58" r="2.3" fill="url(#gc)"/>
<circle cx="375.50" cy="296.88" r="2.3" fill="url(#gc)"/>
<circle cx="412.50" cy="311.76" r="2.3" fill="url(#gc)"/>
<circle cx="431.00" cy="352.68" r="2.3" fill="url(#gc)"/>
<circle cx="449.50" cy="365.63" r="2.3" fill="url(#gc)"/>
<circle cx="486.50" cy="385.42" r="2.3" fill="url(#gc)"/>
<circle cx="523.50" cy="388.40" r="2.3" fill="url(#gc)"/>
<line x1="334.40" y1="324.90" x2="354.70" y2="324.90" stroke="#959595" stroke-width="0.8"/>
<circle cx="344.50" cy="324.90" r="2.3" fill="url(#gg)"/>
<text x="357.00" y="328.10" font-size="9.0" text-anchor="start" fill="#262626" stroke="#262626" font-weight="normal" font-family='"Liberation Sans", sans-serif' >Cu(III)+·OH</text>
<line x1="334.40" y1="336.10" x2="354.70" y2="336.10" stroke="#ff8080" stroke-width="0.8"/>
<circle cx="344.50" cy="336.10" r="2.3" fill="url(#gr)"/>
<text x="357.00" y="339.30" font-size="9.0" text-anchor="start" fill="#262626" stroke="#262626" font-weight="normal" font-family='"Liberation Sans", sans-serif' >Cu(III)</text>
<line x1="334.40" y1="349.20" x2="354.70" y2="349.20" stroke="#55a5ea" stroke-width="0.8"/>
<circle cx="344.50" cy="349.20" r="2.3" fill="url(#gc)"/>
<text x="357.00" y="352.40" font-size="9.0" text-anchor="start" fill="#262626" stroke="#262626" font-weight="normal" font-family='"Liberation Sans", sans-serif' >·OH</text>
<text x="431.20" y="445.50" font-size="10.8" text-anchor="middle" fill="#262626" stroke="#262626" font-weight="normal" >pH value</text>
<text x="0" y="0" font-size="11.0" text-anchor="middle" fill="#262626" stroke="#262626" transform="translate(296.00,325.40) rotate(-90)">CIP removal ratio/%</text>
</svg></body></html>
